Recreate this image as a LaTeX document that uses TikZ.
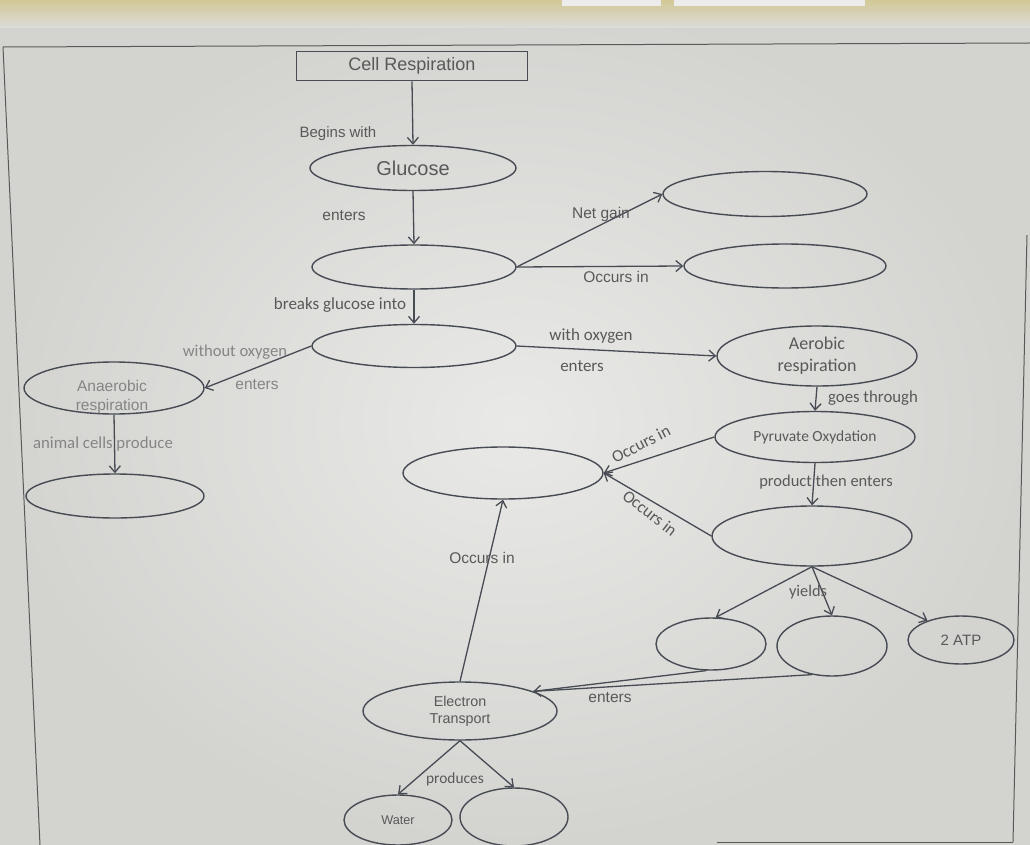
\documentclass[tikz,border=0pt]{standalone}
\usepackage{fontspec}
\setmainfont{Liberation Sans}
\newfontfamily\calib{Carlito}
\usetikzlibrary{shapes.geometric,arrows.meta}
\definecolor{linec}{HTML}{474B53}
\definecolor{txtc}{HTML}{595959}
\definecolor{fadec}{HTML}{858585}
\definecolor{bgin}{HTML}{E9E9E7}
\definecolor{bgout}{HTML}{D3D3D0}
\definecolor{topc}{HTML}{D2C897}
\newcommand{\fs}[1]{\fontsize{#1}{#1}\selectfont}
\tikzset{
  ell/.style={ellipse, draw=linec, line width=1.4pt, inner sep=0pt, text=txtc, align=center},
  arr/.style={draw=linec, line width=1.3pt, -{Straight Barb[length=6.5pt,width=11pt]}},
  plain/.style={draw=linec, line width=1.3pt},
  lab/.style={text=txtc, inner sep=1pt},
  frame/.style={draw=gray!70!black, line width=1pt}
}
\begin{document}
\begin{tikzpicture}[x=1pt,y=-1pt]
\useasboundingbox (0,0) rectangle (1030,845);
% background of the photo
\shade[inner color=bgin, outer color=bgout] (0,0) rectangle (1030,845);
\shade[top color=topc, bottom color=bgout!80!white] (0,0) rectangle (1030,28);
\fill[white!85!gray] (562,0) rectangle (661,6);
\fill[white!85!gray] (674,0) rectangle (865,6);
% page frame
\draw[frame] (3,47) -- (1030,43);
\draw[frame] (3,47) -- (40,845);
\draw[frame] (1027,235) -- (1013,842);
\draw[frame] (717,842) -- (1013,842);

% nodes
\node[draw=linec, line width=1.7pt, minimum width=231pt, minimum height=29pt, inner sep=0pt, text=txtc, font=\fs{18}] (cr) at (412,66) {Cell Respiration};
\node[ell, minimum width=206pt, minimum height=45pt, font=\fs{20}] (glu) at (413,168) {Glucose};
\node[ell, minimum width=204pt, minimum height=44pt] (e2) at (414,267) {};
\node[ell, minimum width=204pt, minimum height=43pt] (e3) at (414,346) {};
\node[ell, minimum width=204pt, minimum height=45pt] (ng) at (765,194) {};
\node[ell, minimum width=202pt, minimum height=44pt] (oc) at (785,266) {};
\node[ell, minimum width=200pt, minimum height=60pt, font=\calib\fs{18}] (aer) at (817,356) {Aerobic\\[4pt]respiration};
\node[ell, minimum width=180pt, minimum height=52pt] (ana) at (114,388) {};
\node[lab, text=fadec, font=\fs{15.5}, align=center] (anat) at (112,397) {Anaerobic\\[4pt]respiration};
\node[ell, minimum width=178pt, minimum height=44pt] (anb) at (115,496) {};
\node[ell, minimum width=200pt, minimum height=51pt, font=\calib\fs{15.5}] (po) at (815,437) {Pyruvate Oxydation};
\node[ell, minimum width=200pt, minimum height=52pt] (mito) at (503,473) {};
\node[ell, minimum width=200pt, minimum height=60pt] (kr) at (812,536) {};
\node[ell, minimum width=110pt, minimum height=52pt] (ea) at (711,644) {};
\node[ell, minimum width=110pt, minimum height=60pt] (eb) at (832,646) {};
\node[ell, minimum width=106pt, minimum height=48pt, font=\fs{15}] (atp) at (961,640) {2 ATP};
\node[ell, minimum width=194pt, minimum height=58pt, font=\fs{14.3}] (et) at (460,711) {Electron\\[3pt]Transport};
\node[ell, minimum width=108pt, minimum height=50pt, font=\fs{12.7}] (wat) at (398,820) {Water};
\node[ell, minimum width=108pt, minimum height=58pt] (pb) at (514,817) {};

% connectors
\draw[arr] (cr.south) -- (glu.north);
\draw[arr] (glu.south) -- (e2.north);
\draw[arr] (e2.south) -- (e3.north);
\draw[arr] (e2.east) -- (ng.west);
\draw[arr] (e2.east) -- (oc.west);
\draw[arr] (e3.east) -- (aer.west);
\draw[arr] (e3.west) -- (ana.east);
\draw[arr] (ana.south) -- (anb.north);
\draw[arr] (aer.south) -- (po.north);
\draw[arr] (po.south) -- (kr.north);
\draw[arr] (po.west) -- (mito.east);
\draw[arr] (kr.west) -- (mito.east);
\draw[arr] (kr.south) -- (ea.80);
\draw[arr] (kr.south) -- (eb.north);
\draw[arr] (kr.south) -- (atp.150);
\draw[plain] (ea.260) -- (et.15);
\draw[arr] (eb.235) -- (et.15);
\draw[arr] (et.north) -- (mito.south);
\draw[arr] (et.south) -- (wat.north);
\draw[arr] (et.south) -- (pb.north);

% connector labels
\node[lab, font=\fs{15}] (l1) at (338,134) {Begins with};
\node[lab, font=\fs{15.5}] (l2) at (344,216) {enters};
\node[lab, font=\fs{15.5}] (l3) at (601,214) {Net gain};
\node[lab, font=\fs{15.5}] (l4) at (616,277) {Occurs in};
\node[lab, font=\calib\fs{17}] (l5) at (340,305) {breaks glucose into};
\node[lab, font=\calib\fs{17}] (l6) at (591,336) {with oxygen};
\node[lab, font=\calib\fs{17}] (l7) at (582,366) {enters};
\node[lab, text=fadec, font=\calib\fs{16.6}] (l8) at (235,352) {without oxygen};
\node[lab, text=fadec, font=\fs{15.5}] (l9) at (257,385) {enters};
\node[lab, text=fadec, font=\calib\fs{16.8}] (l10) at (103,444) {animal cells produce};
\node[lab, font=\calib\fs{16.8}] (l11) at (873,398) {goes through};
\node[lab, font=\calib\fs{16.5}] (l12) at (826,482) {product then enters};
\node[lab, font=\calib\fs{17}, rotate=27] (l13) at (641,444) {Occurs in};
\node[lab, font=\calib\fs{17}, rotate=-38] (l14) at (650,513) {Occurs in};
\node[lab, font=\fs{15.5}] (l15) at (482,558) {Occurs in};
\node[lab, font=\calib\fs{16.3}] (l16) at (808,592) {yields};
\node[lab, font=\fs{15.5}] (l17) at (610,698) {enters};
\node[lab, font=\calib\fs{15.4}] (l18) at (455,779) {produces};
\end{tikzpicture}
\end{document}
